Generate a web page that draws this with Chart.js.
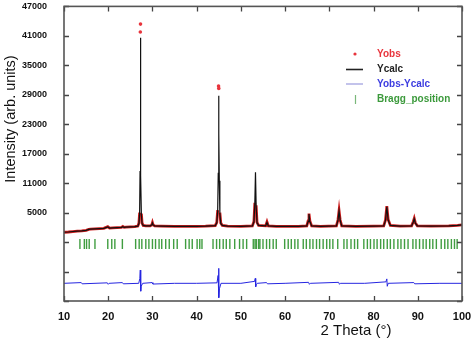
<!DOCTYPE html>
<html>
<head>
<meta charset="utf-8">
<script src="https://cdn.jsdelivr.net/npm/chart.js@4/dist/chart.umd.min.js"></script>
<style>
html,body{margin:0;padding:0;background:#fff;}
canvas{display:block;}
</style>
</head>
<body>
<canvas id="c" width="474" height="341"></canvas>
<script>
// ---- data ----
const twoTheta = [10,11,12,13,14,15,15.6,16,17,18,19,19.9,20.3,21,22,23,23.3,23.6,24,25,26,26.7,26.95,27.1,27.2,27.26,27.30,27.34,27.4,27.5,27.65,27.9,28.5,29.5,29.85,30.0,30.15,30.5,32,35,38,40,42,44.2,44.55,44.75,44.88,44.95,45.0,45.05,45.12,45.25,45.45,45.8,47,50,52.6,52.95,53.15,53.3,53.45,53.65,54,55.6,55.9,56.2,58,60,63,64.9,65.2,65.4,65.6,66,68,71.6,71.95,72.2,72.45,72.8,76,80,82.3,82.7,83.0,83.3,83.8,86,88.6,89.0,89.2,89.45,89.9,93,97,99,100];
const yObs = [1000,1050,1150,1250,1300,1400,1600,1650,1700,1750,1800,2150,1850,1900,1950,2000,2200,2000,2050,2100,2150,2250,2900,5000,14000,41800,43400,30000,13000,4800,2900,2400,2300,2300,2500,2950,2500,2300,2250,2200,2200,2200,2250,2350,3000,5500,14000,30800,30300,22000,12000,5000,2900,2400,2250,2200,2300,3200,7000,13800,6500,3000,2400,2300,3100,2300,2200,2200,2200,2300,3300,4800,3300,2300,2200,2300,3500,5400,3500,2300,2200,2250,2300,3500,6300,3600,2400,2250,2300,3200,3800,2900,2300,2250,2300,2400,2500];
const yCalc = [1000,1050,1150,1250,1300,1400,1600,1650,1700,1750,1800,2100,1850,1900,1950,2000,2150,2000,2050,2100,2150,2250,2800,4700,13500,37000,40600,29000,12500,4500,2800,2400,2300,2300,2500,2900,2500,2300,2250,2200,2200,2200,2250,2350,2900,5200,13000,27500,28800,21000,11500,4800,2800,2400,2250,2200,2300,3100,6800,13200,6400,2900,2400,2300,3000,2300,2200,2200,2200,2300,3200,4700,3200,2300,2200,2300,3400,5300,3400,2300,2200,2250,2300,3400,6200,3500,2400,2250,2300,3100,3750,2850,2300,2250,2300,2400,2500];

const diffTheta = [10,13.9,14.1,19.8,20.0,20.2,23.2,23.4,26.9,27.15,27.25,27.35,27.45,27.8,29.9,30.1,35,40,44.6,44.85,44.95,45.05,45.15,45.5,50,53.1,53.25,53.35,53.45,53.7,55.8,56.0,60,65.3,65.5,65.7,72.1,72.3,72.5,78,82.8,83.0,83.1,83.3,89.1,89.3,95,100];
const yDiff = [-9400,-9250,-9500,-9300,-9600,-9400,-9250,-9500,-9400,-8400,-6700,-11000,-10000,-9400,-9250,-9550,-9400,-9400,-9300,-7800,-6350,-12330,-10500,-9400,-9400,-9000,-8400,-10100,-9700,-9400,-9250,-9500,-9400,-9200,-9600,-9400,-9200,-9600,-9400,-9400,-9100,-8500,-10000,-9400,-9250,-9500,-9400,-9400];

const braggPos = [13.6,14.6,15.1,15.7,17.0,19.9,20.8,21.5,23.2,26.2,27.0,27.6,28.5,29.2,30.0,30.7,31.5,32.1,33.0,33.8,34.8,35.6,37.5,38.3,39.0,40.1,40.7,41.2,43.7,44.5,45.2,46.0,46.7,47.5,48.6,49.7,50.5,51.3,52.8,53.2,53.5,54.0,54.3,55.0,55.8,56.5,57.3,58.0,59.9,60.7,61.4,62.2,62.9,64.1,64.8,65.6,66.3,67.1,67.8,68.6,69.4,70.1,70.8,71.9,73.3,74.0,74.9,75.7,76.4,77.8,78.6,79.3,80.1,80.8,81.6,82.3,83.1,83.8,84.6,85.5,86.2,87.0,87.8,88.9,89.6,90.4,91.2,91.9,92.7,93.4,94.2,95.3,96.1,96.8,97.6,98.3,98.9];
const braggLevel = -1400;

const xTicks = {min:10, max:100, step:10};
const yTicks = {min:-13000, max:47000, step:6000, firstLabel:5000};

// ---- build datasets ----
const obsData = twoTheta.map((x,i)=>({x:x, y:yObs[i]}));
const calcData = twoTheta.map((x,i)=>({x:x, y:yCalc[i]}));
const diffData = diffTheta.map((x,i)=>({x:x, y:yDiff[i]}));
const braggData = braggPos.map(x=>({x:x, y:braggLevel}));

const frameTicks = {
  id:'frameTicks',
  afterDatasetsDraw(chart){
    const {ctx, chartArea:a, scales} = chart;
    ctx.save();
    ctx.strokeStyle = '#444';
    ctx.lineWidth = 1.3;
    const L = 5;
    ctx.beginPath();
    scales.x.ticks.forEach(t=>{
      const p = Math.round(scales.x.getPixelForValue(t.value))+0.5;
      ctx.moveTo(p, a.bottom); ctx.lineTo(p, a.bottom-L);
      ctx.moveTo(p, a.top); ctx.lineTo(p, a.top+L);
    });
    scales.y.ticks.forEach(t=>{
      const p = Math.round(scales.y.getPixelForValue(t.value))+0.5;
      ctx.moveTo(a.left, p); ctx.lineTo(a.left+L, p);
      ctx.moveTo(a.right, p); ctx.lineTo(a.right-L, p);
    });
    ctx.stroke();
    ctx.lineWidth = 1.6;
    ctx.strokeStyle = '#555';
    ctx.strokeRect(a.left, a.top, a.right-a.left, a.bottom-a.top);

    // legend
    ctx.font = "bold 10px 'Liberation Sans', Arial, sans-serif";
    ctx.textBaseline = 'middle';
    ctx.textAlign = 'left';
    const tx = 377;
    ctx.fillStyle = '#e8343c';
    ctx.beginPath(); ctx.arc(355, 54, 1.6, 0, Math.PI*2); ctx.fill();
    ctx.fillText('Yobs', tx, 54.5);
    ctx.strokeStyle = '#222'; ctx.lineWidth = 1.6;
    ctx.beginPath(); ctx.moveTo(346, 69.5); ctx.lineTo(363, 69.5); ctx.stroke();
    ctx.fillStyle = '#222';
    ctx.fillText('Ycalc', tx, 69.5);
    ctx.strokeStyle = '#9a9ade'; ctx.lineWidth = 1.2;
    ctx.beginPath(); ctx.moveTo(346, 84); ctx.lineTo(363, 84); ctx.stroke();
    ctx.fillStyle = '#3b3be0';
    ctx.fillText('Yobs-Ycalc', tx, 84.5);
    ctx.strokeStyle = '#7ab87a'; ctx.lineWidth = 1.2;
    ctx.beginPath(); ctx.moveTo(355.5, 95); ctx.lineTo(355.5, 104); ctx.stroke();
    ctx.fillStyle = '#3c9a3c';
    ctx.fillText('Bragg_position', tx, 99.5);

    // axis titles
    ctx.fillStyle = '#111';
    ctx.font = "15px 'Liberation Sans', Arial, sans-serif";
    ctx.textAlign = 'center';
    ctx.fillText('2 Theta (°)', 356, 331);
    ctx.save();
    ctx.translate(10.5, 119);
    ctx.rotate(-Math.PI/2);
    ctx.font = "14.5px 'Liberation Sans', Arial, sans-serif";
    ctx.fillText('Intensity (arb. units)', 0, 0);
    ctx.restore();
    ctx.restore();
  }
};

new Chart(document.getElementById('c'), {
  type: 'scatter',
  data: {
    datasets: [
      { label:'Ycalc', data: calcData, showLine:true, borderColor:'#111', borderWidth:1.2, pointRadius:0, tension:0, order:1 },
      { label:'Yobs', data: obsData, showLine:true, borderColor:'#cc1a1a', borderWidth:2.8, tension:0,
        pointRadius: c => { const i=c.dataIndex; return (yObs[i] > 25000 && yObs[i] > yCalc[i]*1.05) ? 1.8 : 0; },
        pointBackgroundColor:'#e8343c', pointBorderWidth:0,
        segment: { borderColor: c => (c.p0.parsed.y > 7000 || c.p1.parsed.y > 7000) ? 'rgba(0,0,0,0)' : undefined },
        order:2 },
      { label:'Yobs-Ycalc', data: diffData, showLine:true, borderColor:'#2626e0', borderWidth:1, pointRadius:0, tension:0, order:3 },
      { label:'Bragg_position', data: braggData, showLine:false, pointStyle:'line', rotation:90, pointRadius:5,
        borderColor:'rgba(30,140,30,0.85)', pointBorderColor:'rgba(30,140,30,0.85)', pointBorderWidth:1.4, order:4 }
    ]
  },
  options: {
    responsive:false,
    animation:false,
    devicePixelRatio:1,
    layout:{ padding:{ left:0, right:12, top:6, bottom:0 } },
    plugins:{ legend:{display:false}, tooltip:{enabled:false} },
    scales:{
      x:{
        type:'linear', min:xTicks.min, max:xTicks.max,
        ticks:{ stepSize:xTicks.step, color:'#111', padding:0,
          font:{ family:"'Liberation Sans', Arial, sans-serif", size:11, weight:'bold' } },
        grid:{ display:true, drawOnChartArea:false, drawTicks:true, tickLength:9, tickColor:'rgba(0,0,0,0)' },
        border:{ display:false },
        afterFit(s){ s.height = 40; }
      },
      y:{
        type:'linear', min:yTicks.min, max:yTicks.max,
        ticks:{ stepSize:yTicks.step, color:'#111', padding:0,
          callback: v => v >= yTicks.firstLabel ? String(v) : '',
          font:{ family:"'Liberation Sans', Arial, sans-serif", size:9, weight:'bold' } },
        grid:{ display:true, drawOnChartArea:false, drawTicks:true, tickLength:17, tickColor:'rgba(0,0,0,0)' },
        border:{ display:false },
        afterFit(s){ s.width = 64; }
      }
    }
  },
  plugins:[frameTicks]
});
</script>
</body>
</html>
